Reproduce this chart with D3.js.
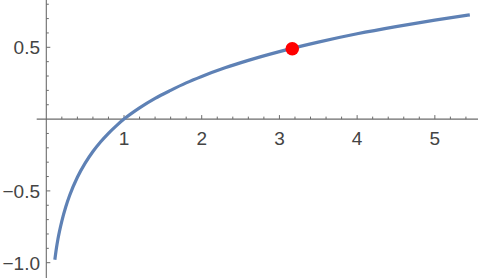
<!DOCTYPE html>
<html>
<head>
<meta charset="utf-8">
<script src="https://cdn.jsdelivr.net/npm/d3@7"></script>
<style>
  html, body { margin: 0; padding: 0; background: #fff; }
  svg { display: block; }
  text { font-family: "Liberation Sans", Arial, sans-serif; font-size: 19px; fill: #444; }
</style>
</head>
<body>
<div id="chart"></div>
<script>
// curve points
const xs = [0.11, 0.13, 0.15, 0.2, 0.25, 0.3, 0.4, 0.5, 0.6, 0.7, 0.8, 0.9, 1.0, 1.2, 1.4, 1.6, 1.8, 2.0, 2.3, 2.6, 3.0, 3.5, 4.0, 4.5, 5.0, 5.45];
const ys = [-0.98, -0.9, -0.835, -0.71, -0.612, -0.532, -0.405, -0.307, -0.226, -0.158, -0.099, -0.047, 0, 0.078, 0.144, 0.2, 0.252, 0.297, 0.357, 0.409, 0.47, 0.536, 0.594, 0.644, 0.689, 0.726];
const marker = [3.165, 0.49];
const xTicks = [1, 2, 3, 4, 5];
const yTicks = [-1.0, -0.5, 0.5];
const yTickLabels = ["\u22121.0", "\u22120.5", "0.5"];

const W = 480, H = 278;
const AXIS = "#6b6b6b";

let svg = d3.select("#chart").append("svg")
  .attr("width", W)
  .attr("height", H);

let x = d3.scaleLinear().domain([0, 5.5]).range([46.3, 473.7]),
  y = d3.scaleLinear().domain([-1, 0.5]).range([262.7, 47.3]);

// minor + major ticks
let xMinor = d3.range(0.2, 5.61, 0.2).filter(v => Math.abs(v - Math.round(v)) > 1e-6),
  yMinor = d3.range(-1.0, 0.81, 0.1).filter(v => Math.abs(v * 2 - Math.round(v * 2)) > 1e-6);

let g = svg.append("g");

g.append("line")
  .attr("x1", 36.7).attr("x2", 478)
  .attr("y1", y(0)).attr("y2", y(0))
  .attr("stroke", AXIS).attr("stroke-width", 1.1);

g.append("line")
  .attr("x1", x(0)).attr("x2", x(0))
  .attr("y1", 0).attr("y2", H)
  .attr("stroke", AXIS).attr("stroke-width", 1.1);

g.selectAll(".xminor").data(xMinor).enter().append("line")
  .attr("x1", d => x(d)).attr("x2", d => x(d))
  .attr("y1", y(0)).attr("y2", y(0) - 2.5)
  .attr("stroke", AXIS).attr("stroke-width", 1);

g.selectAll(".xmajor").data(xTicks).enter().append("line")
  .attr("x1", d => x(d)).attr("x2", d => x(d))
  .attr("y1", y(0)).attr("y2", y(0) - 4)
  .attr("stroke", AXIS).attr("stroke-width", 1);

g.selectAll(".yminor").data(yMinor).enter().append("line")
  .attr("x1", x(0)).attr("x2", x(0) + 2.5)
  .attr("y1", d => y(d)).attr("y2", d => y(d))
  .attr("stroke", AXIS).attr("stroke-width", 1);

g.selectAll(".ymajor").data(yTicks).enter().append("line")
  .attr("x1", x(0)).attr("x2", x(0) + 4)
  .attr("y1", d => y(d)).attr("y2", d => y(d))
  .attr("stroke", AXIS).attr("stroke-width", 1);

g.selectAll(".xlab").data(xTicks).enter().append("text")
  .attr("x", d => x(d))
  .attr("y", y(0) + 26)
  .attr("text-anchor", "middle")
  .text(d => d);

g.selectAll(".ylab").data(yTicks).enter().append("text")
  .attr("x", 40)
  .attr("y", d => y(d))
  .attr("dy", "0.36em")
  .attr("text-anchor", "end")
  .text((d, i) => yTickLabels[i]);

// the curve
let pts = xs.map((v, i) => [v, ys[i]]);
let line = d3.line()
  .x(d => x(d[0]))
  .y(d => y(d[1]))
  .curve(d3.curveMonotoneX);

svg.append("path")
  .datum(pts)
  .attr("d", line)
  .attr("fill", "none")
  .attr("stroke", "#5e81b5")
  .attr("stroke-width", 3.2)
  .attr("stroke-linecap", "butt");

svg.append("circle")
  .attr("cx", x(marker[0]))
  .attr("cy", y(marker[1]))
  .attr("r", 6.8)
  .attr("fill", "#ff0000");
</script>
</body>
</html>
